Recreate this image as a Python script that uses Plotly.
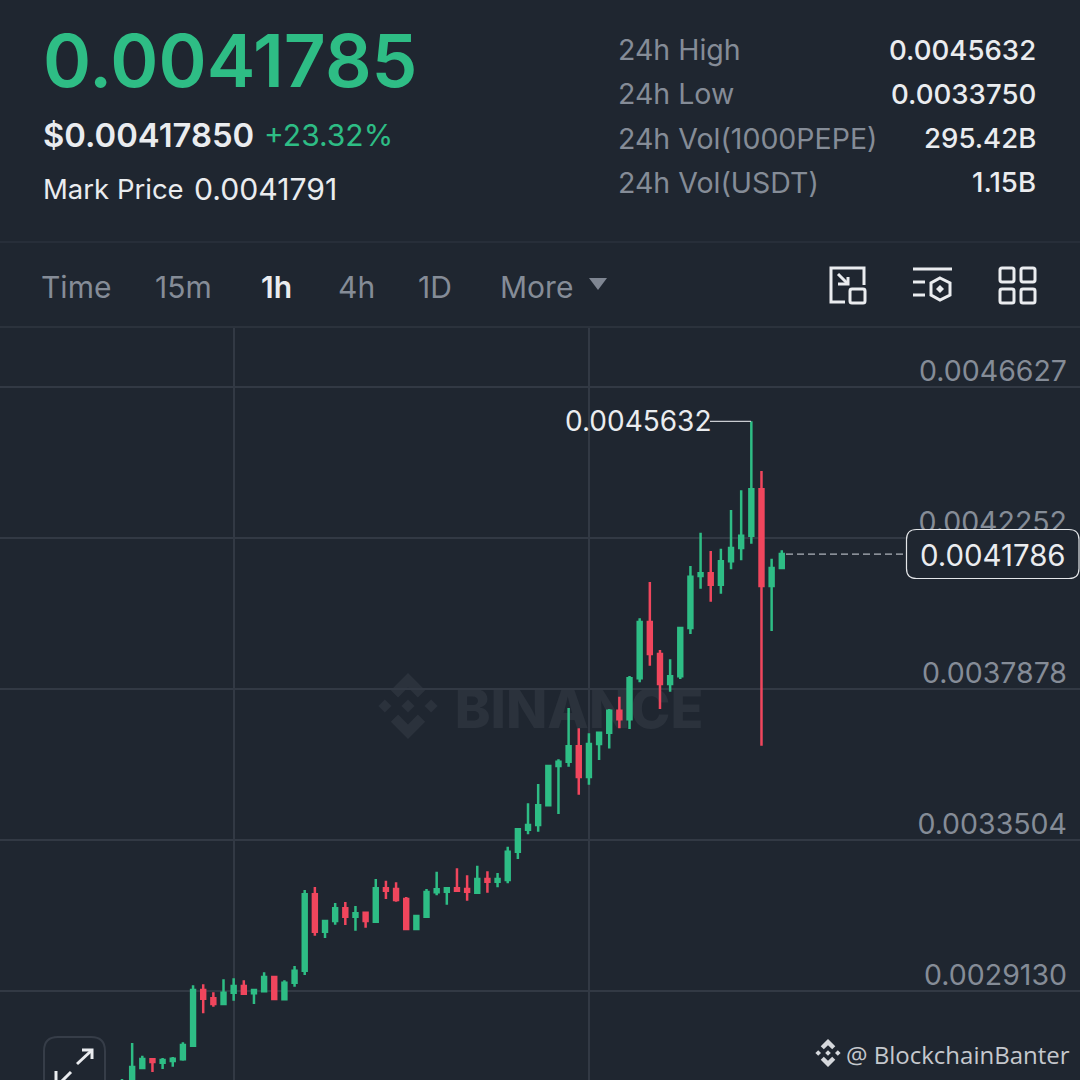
import plotly.graph_objects as go

# Hourly candles, prices in units of 1e-7 USDT
high_e7 = [26581,27624,27256,27181,27189,27218,27644,29295,29324,29092,29469,29498,29440,29197,29672,29556,29440,29854,32056,32143,31195,31679,31708,31592,31427,32374,32325,32279,31853,31303,32085,32586,32114,32684,32481,32760,32597,32548,33310,33852,34567,35126,35648,35842,37328,36740,36595,36641,37299,37655,38255,39926,40978,39008,38738,39683,41441,42406,41875,41942,43063,43634,45632,44193,41652,41896]
low_e7 = [25828,26262,26871,26784,26871,26937,27111,27517,28484,28675,28724,28849,29043,28753,29110,28878,28861,29255,29593,30732,30665,31051,31042,30877,30964,31108,31795,31717,30906,30926,31265,31902,31630,32027,31746,31940,31977,32134,32250,32954,33669,33744,34509,34257,35627,34816,35106,35821,36154,36740,36719,38072,38553,37299,37800,38168,39471,40783,40407,40639,41345,41606,42087,36236,39558,41374]
open_e7 = [25973,26378,26900,27152,27053,27102,27152,27545,29159,28919,28753,29081,29275,29063,29121,29536,28890,29370,29718,31931,30848,31158,31526,31282,31398,31137,32105,32085,31795,30926,31282,31989,32006,32105,32085,31977,32374,32296,32345,33165,33802,33939,34509,35648,35772,36218,35329,36285,36612,37250,37000,38188,39819,38892,38023,38246,39645,41151,41229,40899,41577,41962,42319,43663,40862,41383]
close_e7 = [26378,26929,27160,27073,27131,27169,27566,29159,28907,28753,29081,29275,29052,29159,29536,28898,29370,29718,31931,30848,31158,31526,31282,31381,31158,32105,32035,31766,30926,31303,31998,32076,32105,32035,32006,32374,32296,32374,33165,33814,33939,34509,35648,35772,36218,35329,36285,36612,37250,37000,38188,39819,38892,38023,38246,39645,41131,41229,40899,41577,41962,42319,43663,40862,41383,41786]
hours = list(range(len(open_e7)))

price_ticks = [0.0046627, 0.0042252, 0.0037878, 0.0033504, 0.0029130]
price_labels = ["0.0046627", "0.0042252", "0.0037878", "0.0033504", "0.0029130"]
time_grid = [11, 46]
last_price = 0.0041786
high_price = 0.0045632
high_hour = 62

stats_labels = ["24h High", "24h Low", "24h Vol(1000PEPE)", "24h Vol(USDT)"]
stats_values = ["0.0045632", "0.0033750", "295.42B", "1.15B"]
intervals = ["Time", "15m", "1h", "4h", "1D", "More"]

BG = "#1f2630"
GREEN = "#2ebd85"
RED = "#f0465d"
GRID = "#323944"
MUTED = "#858c97"
WHITE = "#eaecef"
FONT = "Inter"
W = H = 1080


def e7(v):
    return [x / 1e7 for x in v]


def px(x):
    return x / W


def py(y):
    return 1 - y / H


def P(*pts, close=True):
    s = "M" + " L".join(f"{px(x):.5f},{py(y):.5f}" for x, y in pts)
    return s + (" Z" if close else "")


def rrect(x0, y0, x1, y1, r):
    return (
        f"M{px(x0+r):.5f},{py(y0):.5f} L{px(x1-r):.5f},{py(y0):.5f} "
        f"Q{px(x1):.5f},{py(y0):.5f} {px(x1):.5f},{py(y0+r):.5f} "
        f"L{px(x1):.5f},{py(y1-r):.5f} Q{px(x1):.5f},{py(y1):.5f} {px(x1-r):.5f},{py(y1):.5f} "
        f"L{px(x0+r):.5f},{py(y1):.5f} Q{px(x0):.5f},{py(y1):.5f} {px(x0):.5f},{py(y1-r):.5f} "
        f"L{px(x0):.5f},{py(y0+r):.5f} Q{px(x0):.5f},{py(y0):.5f} {px(x0+r):.5f},{py(y0):.5f} Z"
    )


shapes = []


def add_path(path, fill=None, line=None, lw=0, layer="above", dash=None):
    d = dict(type="path", xref="paper", yref="paper", path=path, layer=layer,
             line=dict(width=lw, color=line or "rgba(0,0,0,0)"))
    if dash:
        d["line"]["dash"] = dash
    if fill:
        d["fillcolor"] = fill
    shapes.append(d)


def logo(cx, cy, r, color, layer):
    for dx, dy in [(0, 0), (-0.7, 0), (0.7, 0)]:
        q = 0.2
        add_path(P((cx+(dx-q)*r, cy), (cx+dx*r, cy-q*r), (cx+(dx+q)*r, cy), (cx+dx*r, cy+q*r)), fill=color, layer=layer)
    for s in (-1, 1):
        add_path(P((cx, cy+s*r), (cx+0.52*r, cy+s*0.48*r), (cx+0.3*r, cy+s*0.26*r), (cx, cy+s*0.56*r),
                   (cx-0.3*r, cy+s*0.26*r), (cx-0.52*r, cy+s*0.48*r)), fill=color, layer=layer)


# header separators
for yy in (242, 327):
    shapes.append(dict(type="line", xref="paper", yref="paper", x0=0, x1=1, y0=py(yy), y1=py(yy),
                       line=dict(color="#2b323c", width=1.5 if yy == 242 else 2), layer="above"))

# watermark
logo(408, 706, 33, "#2b323c", "below")
shapes.append(dict(type="rect", xref="paper", yref="paper", x0=px(452), x1=px(706), y0=py(735), y1=py(677),
                   layer="below", line=dict(width=0), fillcolor="rgba(0,0,0,0)",
                   label=dict(text="BINANCE", font=dict(family=FONT, size=54, color="#2b323c", weight=800),
                              textposition="middle center")))

# toolbar triangle
add_path(P((589, 278), (607, 278), (598, 290)), fill="#7f8692")

# toolbar icons
ic = "#eaecef"
add_path(P((864, 285), (864, 268), (831, 268), (831, 302), (845, 302), close=False), line=ic, lw=3)
add_path(rrect(850, 289, 865, 303, 2), line=ic, lw=3)
add_path(P((838, 274), (848, 284), close=False), line=ic, lw=3)
add_path(P((838, 284), (848, 284), (848, 277), close=False), line=ic, lw=3)
add_path(P((913, 269), (952, 269), close=False), line=ic, lw=3)
add_path(P((913, 282), (925, 282), close=False), line=ic, lw=3)
add_path(P((913, 295), (925, 295), close=False), line=ic, lw=3)
add_path(P((940, 278), (950, 283), (950, 295), (940, 300), (931, 295), (931, 283)), line=ic, lw=3)
add_path(P((940, 285), (944, 289), (940, 293), (936, 289)), fill=ic)
for x0 in (1000, 1021):
    for y0 in (268, 289):
        add_path(rrect(x0, y0, x0+14, y0+14, 2), line=ic, lw=3)

# expand button
add_path(rrect(44, 1037, 105, 1110, 14), line="#363d48", lw=2)
add_path(P((77, 1064), (91, 1051), close=False), line=ic, lw=3)
add_path(P((82, 1050), (92, 1050), (92, 1059), close=False), line=ic, lw=3)
add_path(P((71, 1072), (56, 1087), close=False), line=ic, lw=3)
add_path(P((56, 1071), (56, 1087), close=False), line=ic, lw=3)

# small logo at the credit
logo(828, 1053, 14, "#d5d8dc", "above")

# high-price leader and last-price guide
shapes.append(dict(type="line", xref="paper", yref="y", x0=px(710), x1=px(751), y0=high_price, y1=high_price,
                   line=dict(color="#c9ccd1", width=1.2), layer="above"))
shapes.append(dict(type="line", xref="paper", yref="y", x0=px(786), x1=px(905), y0=last_price, y1=last_price,
                   line=dict(color="#aeb3ba", width=1.3, dash="7px,4px"), layer="above"))

# last-price box
add_path(rrect(906.5, 529.5, 1079, 578.5, 10), fill=BG, line="#e4e6e9", lw=1.2)


def txt(x, y, s, size, color, anchor="left", weight=400, family=FONT):
    shift = {"left": -3, "right": 3, "center": 0}[anchor]
    return dict(xref="paper", yref="paper", x=px(x), y=py(y), text=s, showarrow=False,
                xanchor=anchor, yanchor="middle", xshift=shift,
                font=dict(family=family, size=size, color=color, weight=weight))


ann = [
    txt(44, 61, "0.0041785", 73, GREEN, weight=600),
    txt(44, 135, "$0.00417850", 32.8, WHITE, weight=600),
    txt(265, 135, "+23.32%", 30, GREEN),
    txt(44, 189, "Mark Price", 27.5, WHITE),
    txt(195, 189, "0.0041791", 30.2, WHITE),
    txt(847, 1054, "@ BlockchainBanter", 24, "#c5c8cd", family="Open Sans"),
    txt(993, 555, "0.0041786", 29.4, WHITE, anchor="center"),
]
for i, (lab, val) in enumerate(zip(stats_labels, stats_values)):
    yy = 50 + 44 * i
    ann.append(txt(619, yy, lab, 28.5, MUTED))
    ann.append(txt(1035, yy, val, 27.6, WHITE, anchor="right", weight=500))
for lab, xx in zip(intervals, [42, 156, 262, 339, 419, 501]):
    sel = lab == "1h"
    ann.append(txt(xx, 287, lab, 30, WHITE if sel else MUTED, weight=600 if sel else 400))
ann.append(dict(xref="paper", yref="y", x=px(710), y=high_price, text="0.0045632", showarrow=False,
                xanchor="right", yanchor="middle", xshift=3, font=dict(family=FONT, size=28, color=WHITE)))

fig = go.Figure(go.Candlestick(
    x=hours, open=e7(open_e7), high=e7(high_e7), low=e7(low_e7), close=e7(close_e7),
    whiskerwidth=0,
    increasing=dict(line=dict(color=GREEN, width=2.5), fillcolor=GREEN),
    decreasing=dict(line=dict(color=RED, width=2.5), fillcolor=RED),
    showlegend=False,
))
fig.update_layout(
    width=W, height=H, margin=dict(l=0, r=0, t=0, b=0),
    paper_bgcolor=BG, plot_bgcolor=BG, boxgap=0.45, showlegend=False,
    font=dict(family=FONT),
    shapes=shapes, annotations=ann,
    xaxis=dict(range=[-12.02, 94.38], domain=[0, 1], rangeslider=dict(visible=False),
               tickmode="array", tickvals=time_grid, showticklabels=False, ticks="",
               showgrid=True, gridcolor=GRID, gridwidth=1.5, zeroline=False, showline=False),
    yaxis=dict(range=[0.0026552, 0.0048335], domain=[0, 752 / 1080], side="right",
               tickmode="array", tickvals=price_ticks, ticktext=price_labels,
               ticklabelposition="inside", ticklabelshift=-16, ticklabelstandoff=10, ticks="",
               tickfont=dict(family=FONT, size=28.5, color=MUTED),
               showgrid=True, gridcolor=GRID, gridwidth=1.5, zeroline=False, showline=False),
)
fig.write_html("out.html", config=dict(displayModeBar=False),
               post_script=f"document.body.style.margin='0';document.body.style.background='{BG}';document.body.style.overflow='hidden';")
